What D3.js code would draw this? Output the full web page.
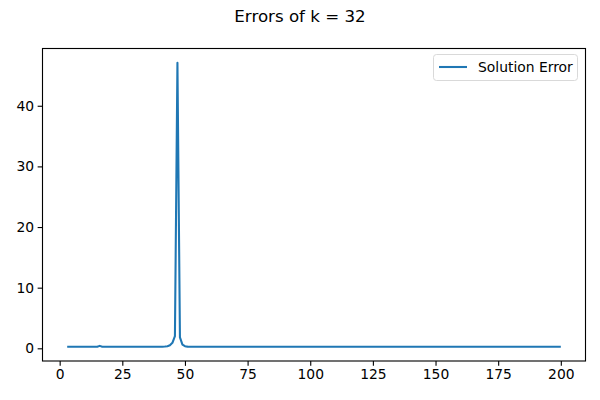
<!DOCTYPE html>
<html>
<head>
<meta charset="utf-8">
<script src="https://cdn.jsdelivr.net/npm/d3@7"></script>
<style>
  html, body { margin: 0; padding: 0; background: #fff; }
  svg { display: block; font-family: "DejaVu Sans", sans-serif; }
</style>
</head>
<body>
<svg id="chart" width="600" height="400"></svg>
<script>
const titleText = "Errors of k = 32";
const seriesName = "Solution Error";
const xValues = [
  3,4,5,6,7,8,9,10,11,12,
  13,14,15,16,17,18,19,20,21,22,
  23,24,25,26,27,28,29,30,31,32,
  33,34,35,36,37,38,39,40,41,42,
  43,44,45,46,47,48,49,50,51,52,
  53,54,55,56,57,58,59,60,61,62,
  63,64,65,66,67,68,69,70,71,72,
  73,74,75,76,77,78,79,80,81,82,
  83,84,85,86,87,88,89,90,91,92,
  93,94,95,96,97,98,99,100,101,102,
  103,104,105,106,107,108,109,110,111,112,
  113,114,115,116,117,118,119,120,121,122,
  123,124,125,126,127,128,129,130,131,132,
  133,134,135,136,137,138,139,140,141,142,
  143,144,145,146,147,148,149,150,151,152,
  153,154,155,156,157,158,159,160,161,162,
  163,164,165,166,167,168,169,170,171,172,
  173,174,175,176,177,178,179,180,181,182,
  183,184,185,186,187,188,189,190,191,192,
  193,194,195,196,197,198,199,200
];
const errorValues = [
  0.25,0.25,0.25,0.25,0.25,0.25,0.25,0.25,0.25,0.25,
  0.25,0.25,0.26,0.4,0.26,0.25,0.25,0.25,0.25,0.25,
  0.25,0.25,0.25,0.25,0.25,0.25,0.25,0.25,0.25,0.25,
  0.25,0.25,0.25,0.25,0.25,0.25,0.26,0.26,0.27,0.29,
  0.35,0.5,0.9,2.0,47.1,1.8,0.6,0.35,0.28,0.26,
  0.25,0.25,0.25,0.25,0.25,0.25,0.25,0.25,0.25,0.25,
  0.25,0.25,0.25,0.25,0.25,0.25,0.25,0.25,0.25,0.25,
  0.25,0.25,0.25,0.25,0.25,0.25,0.25,0.25,0.25,0.25,
  0.25,0.25,0.25,0.25,0.25,0.25,0.25,0.25,0.25,0.25,
  0.25,0.25,0.25,0.25,0.25,0.25,0.25,0.25,0.25,0.25,
  0.25,0.25,0.25,0.25,0.25,0.25,0.25,0.25,0.25,0.25,
  0.25,0.25,0.25,0.25,0.25,0.25,0.25,0.25,0.25,0.25,
  0.25,0.25,0.25,0.25,0.25,0.25,0.25,0.25,0.25,0.25,
  0.25,0.25,0.25,0.25,0.25,0.25,0.25,0.25,0.25,0.25,
  0.25,0.25,0.25,0.25,0.25,0.25,0.25,0.25,0.25,0.25,
  0.25,0.25,0.25,0.25,0.25,0.25,0.25,0.25,0.25,0.25,
  0.25,0.25,0.25,0.25,0.25,0.25,0.25,0.25,0.25,0.25,
  0.25,0.25,0.25,0.25,0.25,0.25,0.25,0.25,0.25,0.25,
  0.25,0.25,0.25,0.25,0.25,0.25,0.25,0.25,0.25,0.25,
  0.25,0.25,0.25,0.25,0.25,0.25,0.25,0.25
];
const xTicks = [0, 25, 50, 75, 100, 125, 150, 175, 200];
const yTicks = [0, 10, 20, 30, 40];

(function () {
const data = xValues.map((x, i) => ({ x, y: errorValues[i] }));

const svg = d3.select("#chart");
const mLeft = 42.5, mRight = 585.5, mTop = 48.5, mBottom = 361;
const lineColor = "#1f77b4";

function padded(ext) {
  const span = ext[1] - ext[0];
  return [ext[0] - 0.05 * span, ext[1] + 0.05 * span];
}
const xScale = d3.scaleLinear().domain(padded(d3.extent(xValues))).range([mLeft, mRight]);
const yScale = d3.scaleLinear().domain(padded(d3.extent(errorValues))).range([mBottom, mTop]);

// title
svg.append("text")
  .attr("x", 300).attr("y", 22)
  .attr("text-anchor", "middle")
  .attr("font-size", "16.67px")
  .attr("fill", "#000")
  .text(titleText);

// line
const line = d3.line().x(d => xScale(d.x)).y(d => yScale(d.y));
svg.append("path")
  .datum(data)
  .attr("d", line)
  .attr("fill", "none")
  .attr("stroke", lineColor)
  .attr("stroke-width", 2.08)
  .attr("stroke-linejoin", "round")
  .attr("stroke-linecap", "butt");

// axes
const xAxis = d3.axisBottom(xScale).tickValues(xTicks).tickSize(4.86).tickPadding(3.5).tickFormat(d3.format("d"));
const yAxis = d3.axisLeft(yScale).tickValues(yTicks).tickSize(4.86).tickPadding(3.5).tickFormat(d3.format("d"));

const gx = svg.append("g").attr("transform", `translate(0,${mBottom})`).call(xAxis);
const gy = svg.append("g").attr("transform", `translate(${mLeft},0)`).call(yAxis);
[gx, gy].forEach(g => {
  g.select(".domain").remove();
  g.selectAll(".tick line").attr("stroke", "#000").attr("stroke-width", 1.11);
  g.selectAll(".tick text").attr("font-size", "13.89px").attr("fill", "#000")
    .attr("font-family", "DejaVu Sans, sans-serif");
});

// spines
svg.append("rect")
  .attr("x", mLeft).attr("y", mTop)
  .attr("width", mRight - mLeft).attr("height", mBottom - mTop)
  .attr("fill", "none").attr("stroke", "#000").attr("stroke-width", 1.11);

// legend
const lg = svg.append("g");
lg.append("rect")
  .attr("x", 433.5).attr("y", 54.5).attr("width", 144).attr("height", 26)
  .attr("rx", 3).attr("ry", 3)
  .attr("fill", "#fff").attr("fill-opacity", 0.8)
  .attr("stroke", "#d9d9d9").attr("stroke-width", 1);
lg.append("line")
  .attr("x1", 439).attr("x2", 467).attr("y1", 67).attr("y2", 67)
  .attr("stroke", lineColor).attr("stroke-width", 2.08);
lg.append("text")
  .attr("x", 478).attr("y", 72)
  .attr("font-size", "13.89px").attr("fill", "#000")
  .text(seriesName);
})();
</script>
</body>
</html>
